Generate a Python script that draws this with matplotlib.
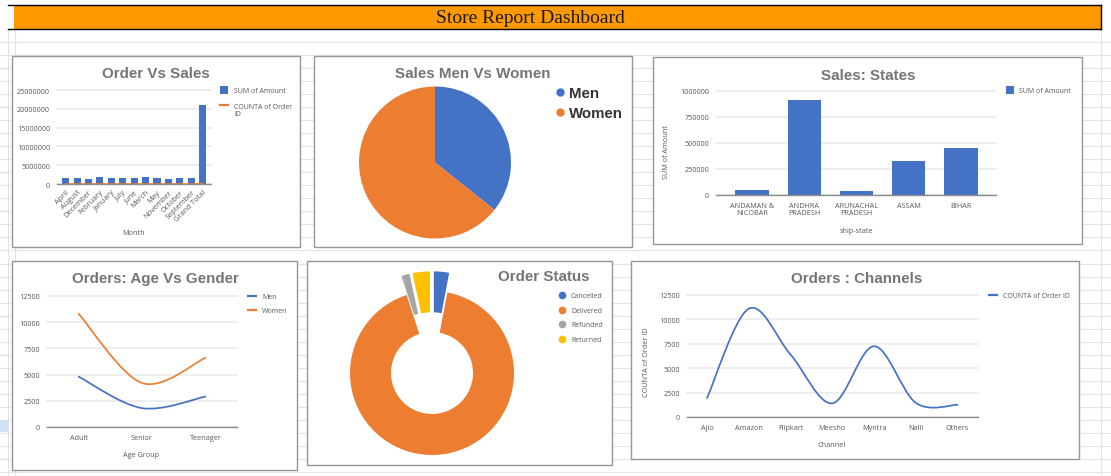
import matplotlib
matplotlib.use('Agg')
import matplotlib.pyplot as plt
from matplotlib.patches import PathPatch, Rectangle
from matplotlib.path import Path
from matplotlib.ticker import FormatStrFormatter
import numpy as np

W, H = 1111, 477

months = ['April', 'August', 'December', 'February', 'January', 'July', 'June',
          'March', 'May', 'November', 'October', 'September', 'Grand Total']
month_amount = [1600000, 1600000, 1450000, 1750000, 1600000, 1600000, 1600000,
                1750000, 1600000, 1450000, 1600000, 1600000, 21000000]
month_orders = [10000, 10000, 9000, 11000, 10000, 10000, 10000,
                11000, 10000, 9000, 10000, 10000, 128000]
month_ticks = [0, 5000000, 10000000, 15000000, 20000000, 25000000]

gender_labels = ['Men', 'Women']
gender_sales = [35.7, 64.3]

states = ['ANDAMAN &\nNICOBAR', 'ANDHRA\nPRADESH', 'ARUNACHAL\nPRADESH', 'ASSAM', 'BIHAR']
state_amount = [52000, 915000, 40000, 325000, 450000]
state_ticks = [0, 250000, 500000, 750000, 1000000]

age_groups = ['Adult', 'Senior', 'Teenager']
age_men = [4800, 1800, 2900]
age_women = [10800, 4200, 6600]
order_ticks = [0, 2500, 5000, 7500, 10000, 12500]

status_labels = ['Cancelled', 'Delivered', 'Refunded', 'Returned']
status_orders = [3.0, 92.0, 1.6, 3.4]

channels = ['Ajio', 'Amazon', 'Flipkart', 'Meesho', 'Myntra', 'Nalli', 'Others']
channel_orders = [1950, 11100, 6400, 1400, 7250, 1450, 1250]

BLUE = '#4472c4'
ORANGE = '#ed7d31'
GRAY = '#a5a5a5'
YELLOW = '#ffc000'
TITLE = '#757575'
TEXT = '#595959'
GRID = '#ebebeb'
AXIS = '#8c8c8c'
SHEET = '#e3e3e3'

plt.rcParams['font.family'] = ['Open Sans', 'DejaVu Sans']
TITLE_FONT = 'Liberation Sans'


def px_axes(left, top, right, bottom):
    # axes from pixel edges of the screenshot
    return fig.add_axes([left / W, 1 - bottom / H, (right - left) / W, (bottom - top) / H])


def chart_box(left, top, right, bottom):
    bg.add_patch(Rectangle((left, top), right - left, bottom - top, fc='white',
                           ec='#969696', lw=1, zorder=3))


def chart_title(text, x, y, size=10.9):
    bg.text(x, y + 1.5, text, ha='center', va='center', fontsize=size, color=TITLE,
            fontweight='bold', family=TITLE_FONT, zorder=5)


def style_axes(ax, ticks, size=5.2):
    for s in ['top', 'right', 'left']:
        ax.spines[s].set_visible(False)
    ax.spines['bottom'].set_color(AXIS)
    ax.spines['bottom'].set_linewidth(1)
    ax.set_yticks(ticks)
    ax.set_ylim(ticks[0], ticks[-1])
    ax.yaxis.set_major_formatter(FormatStrFormatter('%d'))
    ax.yaxis.grid(True, color=GRID, lw=1.2, clip_on=False)
    ax.set_axisbelow(True)
    ax.tick_params(length=0, labelsize=size, labelcolor=TEXT, pad=5)
    ax.patch.set_alpha(0)


def smooth_line(ax, xs, ys, color):
    # spreadsheet style smoothed line, bezier through the data points
    xs = np.array(xs, dtype=float)
    ys = np.array(ys, dtype=float)
    pts = np.column_stack([xs, ys])
    verts = [pts[0]]
    codes = [Path.MOVETO]
    n = len(pts)
    for i in range(n - 1):
        p0 = pts[max(i - 1, 0)]
        p1 = pts[i]
        p2 = pts[i + 1]
        p3 = pts[min(i + 2, n - 1)]
        verts += [p1 + (p2 - p0) / 6, p2 - (p3 - p1) / 6, p2]
        codes += [Path.CURVE4] * 3
    ax.add_patch(PathPatch(Path(verts, codes), fc='none', ec=color, lw=1.25, capstyle='round'))


def legend_text(x, y, text, size=5.0, weight='normal', color=TEXT, family=None):
    bg.text(x, y + 0.7, text, ha='left', va='center', fontsize=size, color=color,
            fontweight=weight, family=family, zorder=5, linespacing=1.0)


def side_text(x, y, text, rotation=0):
    bg.text(x, y, text, ha='center', va='center', fontsize=5.2, color=TEXT, zorder=5,
            rotation=rotation)


fig = plt.figure(figsize=(W / 100, H / 100), dpi=100, facecolor='white')

# spreadsheet behind the charts
bg = fig.add_axes([0, 0, 1, 1])
bg.set_xlim(0, W)
bg.set_ylim(H, 0)
bg.axis('off')
for y in np.arange(43, H, 13.03):
    bg.plot([0, W], [y, y], color=SHEET, lw=0.8, zorder=1)
for x in [7.5, 14.5, 1101]:
    bg.plot([x, x], [31, H], color=SHEET, lw=0.8, zorder=1)
bg.add_patch(Rectangle((0, 421), 8, 12, fc='#cfe0f7', ec='none', zorder=2))

# header bar
bg.add_patch(Rectangle((14, 6), 1087, 24, fc='#ff9900', ec='none', zorder=2))
bg.plot([8, 1101], [5.5, 5.5], color='black', lw=1, zorder=3)
bg.plot([8, 1101], [30, 30], color='black', lw=1, zorder=3)
bg.plot([1101, 1101], [5.5, 30], color='black', lw=1, zorder=3)
bg.text(530, 18.5, 'Store Report Dashboard', ha='center', va='center', fontsize=14,
        family='Liberation Serif', color='#1a1a1a', zorder=5)

# Order Vs Sales
chart_box(12, 57, 300, 248)
chart_title('Order Vs Sales', 156, 73)
ax1 = px_axes(57, 91, 211, 185)
style_axes(ax1, month_ticks)
x1 = np.arange(len(months))
ax1.bar(x1, month_amount, width=0.62, color=BLUE, zorder=2)
ax1.plot(x1, month_orders, color=ORANGE, lw=1, zorder=3)
ax1.set_xlim(-0.76, len(months) - 1 + 0.73)
ax1.set_xticks(x1)
ax1.set_xticklabels(months, rotation=45, ha='right', rotation_mode='anchor', fontsize=5.4)
ax1.tick_params(axis='x', pad=3)
side_text(134, 234, 'Month')
bg.add_patch(Rectangle((220, 87), 8, 8, fc=BLUE, ec='none', zorder=5))
bg.plot([220, 228], [105.5, 105.5], color=ORANGE, lw=1.6, zorder=5)
legend_text(234, 91, 'SUM of Amount')
legend_text(234, 110, 'COUNTA of Order\nID')

# Sales Men Vs Women
chart_box(314, 57, 632, 248)
chart_title('Sales Men Vs Women', 473, 73)
ax2 = px_axes(355, 83.5, 515, 243.5)
ax2.pie(gender_sales, colors=[BLUE, ORANGE], startangle=90, counterclock=False, radius=1,
        wedgeprops={'lw': 0})
ax2.set_xlim(-80 / 76, 80 / 76)
ax2.set_ylim(-80 / 76, 80 / 76)
for y, lab, col in zip([93, 113], gender_labels, [BLUE, ORANGE]):
    bg.plot([560], [y], marker='o', ms=6, color=col, mew=0, zorder=5)
    legend_text(569, y, lab, size=10.8, weight='bold', color='#333333', family=TITLE_FONT)

# Sales: States
chart_box(653, 58, 1082, 245)
chart_title('Sales: States', 868, 74)
ax3 = px_axes(716, 92, 996, 196)
style_axes(ax3, state_ticks)
x3 = np.arange(len(states))
ax3.bar(x3, state_amount, width=0.64, color=BLUE, zorder=2)
ax3.set_xlim(-0.69, len(states) - 1 + 0.67)
ax3.set_xticks(x3)
ax3.set_xticklabels(states, fontsize=5.2, linespacing=1.0)
side_text(667, 152, 'SUM of Amount', rotation=90)
side_text(856, 232, 'ship-state')
bg.add_patch(Rectangle((1006, 87), 8, 8, fc=BLUE, ec='none', zorder=5))
legend_text(1019, 91, 'SUM of Amount')

# Orders: Age Vs Gender
chart_box(12, 262, 297, 471)
chart_title('Orders: Age Vs Gender', 155, 278)
ax4 = px_axes(47, 297, 237, 428)
style_axes(ax4, order_ticks)
x4 = np.arange(len(age_groups))
smooth_line(ax4, x4, age_men, BLUE)
smooth_line(ax4, x4, age_women, ORANGE)
ax4.set_xlim(-0.5, len(age_groups) - 0.5)
ax4.set_xticks(x4)
ax4.set_xticklabels(age_groups, fontsize=5.2)
side_text(141, 456, 'Age Group')
for y, lab, col in zip([297, 311], gender_labels, [BLUE, ORANGE]):
    bg.plot([248, 256], [y, y], color=col, lw=1.6, zorder=5)
    legend_text(262, y, lab)

# Order Status
chart_box(307, 262, 612, 466)
chart_title('Order Status', 544, 276)
ax5 = px_axes(332, 264, 532, 464)
ax5.pie(status_orders, colors=[BLUE, ORANGE, GRAY, YELLOW], startangle=90, counterclock=False,
        explode=[0.24, 0, 0.24, 0.24], radius=1,
        wedgeprops={'width': 0.5, 'lw': 0})
ax5.set_xlim(-100 / 82, 100 / 82)
ax5.set_ylim(-(464 - 374) / 82, (374 - 264) / 82)
ax5.set_aspect('equal')
for y, lab, col in zip([296, 311, 325, 340], status_labels, [BLUE, ORANGE, GRAY, YELLOW]):
    bg.plot([561.5], [y], marker='o', ms=5.5, color=col, mew=0, zorder=5)
    legend_text(571, y, lab)

# Orders : Channels
chart_box(631, 262, 1079, 460)
chart_title('Orders : Channels', 857, 278)
ax6 = px_axes(687, 296, 978, 418)
style_axes(ax6, order_ticks)
x6 = np.arange(len(channels))
smooth_line(ax6, x6, channel_orders, BLUE)
ax6.set_xlim(-0.48, len(channels) - 1 + 0.49)
ax6.set_xticks(x6)
ax6.set_xticklabels(channels, fontsize=5.2)
side_text(647, 362, 'COUNTA of Order ID', rotation=90)
side_text(832, 446, 'Channel')
bg.plot([989, 997], [296, 296], color=BLUE, lw=1.6, zorder=5)
legend_text(1003, 296, 'COUNTA of Order ID')

fig.savefig('out.png', dpi=100)
